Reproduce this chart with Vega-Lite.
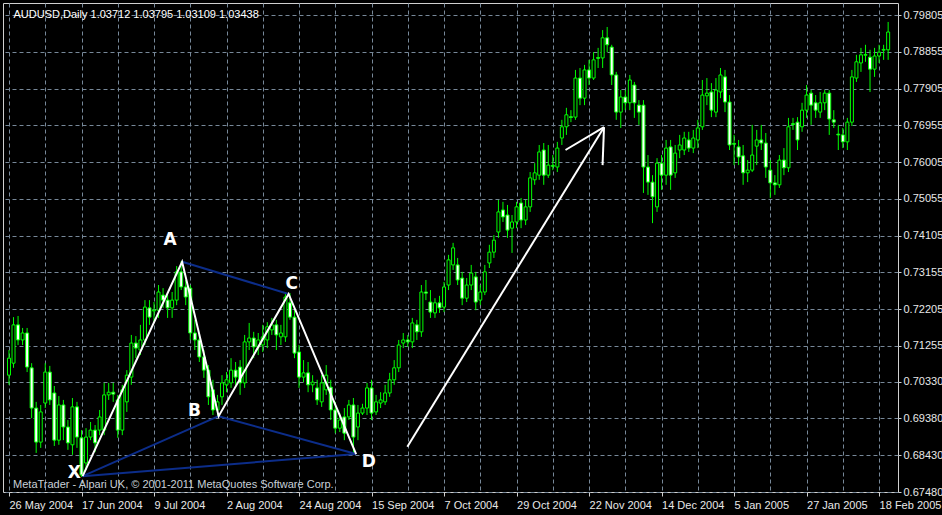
{
"$schema": "https://vega.github.io/schema/vega-lite/v6.json",
"width": 895, "height": 489,
"autosize": {"type": "none"},
"padding": {"left": 3, "top": 3, "right": 44, "bottom": 23},
"background": "#000000",
"config": {"view": {"stroke": "#d0d0d0", "strokeWidth": 1}, "font": "Liberation Sans"},
"datasets": {
"candles": [
{"i":0,"o":0.7050,"h":0.7115,"l":0.7025,"c":0.7094},
{"i":1,"o":0.7081,"h":0.7200,"l":0.7069,"c":0.7180},
{"i":2,"o":0.7180,"h":0.7203,"l":0.7128,"c":0.7141},
{"i":3,"o":0.7141,"h":0.7172,"l":0.7128,"c":0.7159},
{"i":4,"o":0.7159,"h":0.7172,"l":0.7058,"c":0.7071},
{"i":5,"o":0.7069,"h":0.7081,"l":0.6939,"c":0.6965},
{"i":6,"o":0.6965,"h":0.6981,"l":0.6849,"c":0.6877},
{"i":7,"o":0.6877,"h":0.6973,"l":0.6862,"c":0.6955},
{"i":8,"o":0.6978,"h":0.7081,"l":0.6965,"c":0.7058},
{"i":9,"o":0.7058,"h":0.7074,"l":0.6973,"c":0.6986},
{"i":10,"o":0.7004,"h":0.7022,"l":0.6867,"c":0.6882},
{"i":11,"o":0.6882,"h":0.6996,"l":0.6870,"c":0.6973},
{"i":12,"o":0.6973,"h":0.6986,"l":0.6882,"c":0.6916},
{"i":13,"o":0.6916,"h":0.6934,"l":0.6857,"c":0.6875},
{"i":14,"o":0.6870,"h":0.6991,"l":0.6844,"c":0.6968},
{"i":15,"o":0.6968,"h":0.6981,"l":0.6862,"c":0.6890},
{"i":16,"o":0.6888,"h":0.6908,"l":0.6787,"c":0.6792},
{"i":17,"o":0.6823,"h":0.6913,"l":0.6805,"c":0.6890},
{"i":18,"o":0.6890,"h":0.6929,"l":0.6882,"c":0.6908},
{"i":19,"o":0.6908,"h":0.6921,"l":0.6851,"c":0.6875},
{"i":20,"o":0.6908,"h":0.6960,"l":0.6895,"c":0.6942},
{"i":21,"o":0.6908,"h":0.7030,"l":0.6895,"c":0.6999},
{"i":22,"o":0.6999,"h":0.7030,"l":0.6986,"c":0.7006},
{"i":23,"o":0.7006,"h":0.7030,"l":0.6981,"c":0.7001},
{"i":24,"o":0.6986,"h":0.6999,"l":0.6888,"c":0.6908},
{"i":25,"o":0.6908,"h":0.7025,"l":0.6895,"c":0.7012},
{"i":26,"o":0.6981,"h":0.7063,"l":0.6955,"c":0.7050},
{"i":27,"o":0.7045,"h":0.7154,"l":0.7025,"c":0.7133},
{"i":28,"o":0.7133,"h":0.7151,"l":0.7094,"c":0.7120},
{"i":29,"o":0.7115,"h":0.7180,"l":0.7102,"c":0.7141},
{"i":30,"o":0.7141,"h":0.7244,"l":0.7128,"c":0.7226},
{"i":31,"o":0.7224,"h":0.7244,"l":0.7180,"c":0.7200},
{"i":32,"o":0.7216,"h":0.7239,"l":0.7187,"c":0.7218},
{"i":33,"o":0.7218,"h":0.7283,"l":0.7198,"c":0.7265},
{"i":34,"o":0.7257,"h":0.7275,"l":0.7224,"c":0.7244},
{"i":35,"o":0.7244,"h":0.7257,"l":0.7198,"c":0.7224},
{"i":36,"o":0.7224,"h":0.7265,"l":0.7198,"c":0.7244},
{"i":37,"o":0.7244,"h":0.7332,"l":0.7231,"c":0.7317},
{"i":38,"o":0.7317,"h":0.7345,"l":0.7270,"c":0.7278},
{"i":39,"o":0.7278,"h":0.7296,"l":0.7231,"c":0.7252},
{"i":40,"o":0.7275,"h":0.7283,"l":0.7141,"c":0.7159},
{"i":41,"o":0.7159,"h":0.7193,"l":0.7115,"c":0.7141},
{"i":42,"o":0.7141,"h":0.7154,"l":0.7084,"c":0.7097},
{"i":43,"o":0.7097,"h":0.7115,"l":0.7043,"c":0.7063},
{"i":44,"o":0.7063,"h":0.7076,"l":0.6973,"c":0.6994},
{"i":45,"o":0.7012,"h":0.7038,"l":0.6947,"c":0.6960},
{"i":46,"o":0.6960,"h":0.6999,"l":0.6942,"c":0.6981},
{"i":47,"o":0.6994,"h":0.7050,"l":0.6973,"c":0.7030},
{"i":48,"o":0.7025,"h":0.7058,"l":0.7006,"c":0.7038},
{"i":49,"o":0.7030,"h":0.7094,"l":0.7017,"c":0.7063},
{"i":50,"o":0.7063,"h":0.7084,"l":0.7025,"c":0.7045},
{"i":51,"o":0.7071,"h":0.7089,"l":0.6999,"c":0.7030},
{"i":52,"o":0.7030,"h":0.7154,"l":0.7017,"c":0.7136},
{"i":53,"o":0.7136,"h":0.7185,"l":0.7115,"c":0.7146},
{"i":54,"o":0.7146,"h":0.7162,"l":0.7094,"c":0.7123},
{"i":55,"o":0.7123,"h":0.7159,"l":0.7102,"c":0.7141},
{"i":56,"o":0.7128,"h":0.7180,"l":0.7110,"c":0.7149},
{"i":57,"o":0.7141,"h":0.7187,"l":0.7120,"c":0.7175},
{"i":58,"o":0.7167,"h":0.7198,"l":0.7154,"c":0.7180},
{"i":59,"o":0.7180,"h":0.7193,"l":0.7115,"c":0.7154},
{"i":60,"o":0.7149,"h":0.7180,"l":0.7128,"c":0.7159},
{"i":61,"o":0.7149,"h":0.7265,"l":0.7136,"c":0.7252},
{"i":62,"o":0.7237,"h":0.7262,"l":0.7193,"c":0.7200},
{"i":63,"o":0.7200,"h":0.7218,"l":0.7094,"c":0.7107},
{"i":64,"o":0.7110,"h":0.7128,"l":0.7017,"c":0.7045},
{"i":65,"o":0.7045,"h":0.7089,"l":0.7032,"c":0.7056},
{"i":66,"o":0.7056,"h":0.7084,"l":0.7006,"c":0.7025},
{"i":67,"o":0.7025,"h":0.7050,"l":0.7006,"c":0.7032},
{"i":68,"o":0.7017,"h":0.7038,"l":0.6973,"c":0.6986},
{"i":69,"o":0.6981,"h":0.7050,"l":0.6968,"c":0.7030},
{"i":70,"o":0.7012,"h":0.7076,"l":0.6999,"c":0.7050},
{"i":71,"o":0.7019,"h":0.7038,"l":0.6934,"c":0.6960},
{"i":72,"o":0.6960,"h":0.6981,"l":0.6900,"c":0.6913},
{"i":73,"o":0.6913,"h":0.6952,"l":0.6903,"c":0.6934},
{"i":74,"o":0.6942,"h":0.6965,"l":0.6882,"c":0.6900},
{"i":75,"o":0.6942,"h":0.6986,"l":0.6934,"c":0.6973},
{"i":76,"o":0.6973,"h":0.6991,"l":0.6844,"c":0.6890},
{"i":77,"o":0.6916,"h":0.6973,"l":0.6882,"c":0.6952},
{"i":78,"o":0.6952,"h":0.6976,"l":0.6947,"c":0.6965},
{"i":79,"o":0.6965,"h":0.7030,"l":0.6947,"c":0.7017},
{"i":80,"o":0.7017,"h":0.7038,"l":0.6934,"c":0.6952},
{"i":81,"o":0.6955,"h":0.6999,"l":0.6947,"c":0.6981},
{"i":82,"o":0.6978,"h":0.7006,"l":0.6965,"c":0.6986},
{"i":83,"o":0.6981,"h":0.7025,"l":0.6973,"c":0.7004},
{"i":84,"o":0.7004,"h":0.7056,"l":0.6994,"c":0.7038},
{"i":85,"o":0.7038,"h":0.7089,"l":0.7025,"c":0.7069},
{"i":86,"o":0.7069,"h":0.7141,"l":0.7058,"c":0.7128},
{"i":87,"o":0.7133,"h":0.7159,"l":0.7120,"c":0.7141},
{"i":88,"o":0.7141,"h":0.7154,"l":0.7123,"c":0.7136},
{"i":89,"o":0.7136,"h":0.7198,"l":0.7120,"c":0.7185},
{"i":90,"o":0.7180,"h":0.7193,"l":0.7141,"c":0.7162},
{"i":91,"o":0.7162,"h":0.7283,"l":0.7149,"c":0.7265},
{"i":92,"o":0.7265,"h":0.7296,"l":0.7244,"c":0.7262},
{"i":93,"o":0.7239,"h":0.7270,"l":0.7198,"c":0.7213},
{"i":94,"o":0.7211,"h":0.7249,"l":0.7198,"c":0.7237},
{"i":95,"o":0.7237,"h":0.7255,"l":0.7211,"c":0.7224},
{"i":96,"o":0.7226,"h":0.7291,"l":0.7213,"c":0.7278},
{"i":97,"o":0.7283,"h":0.7361,"l":0.7270,"c":0.7348},
{"i":98,"o":0.7335,"h":0.7392,"l":0.7322,"c":0.7379},
{"i":99,"o":0.7335,"h":0.7353,"l":0.7283,"c":0.7296},
{"i":100,"o":0.7301,"h":0.7317,"l":0.7231,"c":0.7249},
{"i":101,"o":0.7249,"h":0.7301,"l":0.7239,"c":0.7283},
{"i":102,"o":0.7283,"h":0.7335,"l":0.7270,"c":0.7314},
{"i":103,"o":0.7304,"h":0.7317,"l":0.7218,"c":0.7239},
{"i":104,"o":0.7244,"h":0.7283,"l":0.7231,"c":0.7265},
{"i":105,"o":0.7265,"h":0.7335,"l":0.7257,"c":0.7317},
{"i":106,"o":0.7340,"h":0.7387,"l":0.7327,"c":0.7368},
{"i":107,"o":0.7368,"h":0.7412,"l":0.7353,"c":0.7399},
{"i":108,"o":0.7420,"h":0.7503,"l":0.7405,"c":0.7472},
{"i":109,"o":0.7477,"h":0.7498,"l":0.7446,"c":0.7459},
{"i":110,"o":0.7464,"h":0.7490,"l":0.7405,"c":0.7425},
{"i":111,"o":0.7430,"h":0.7464,"l":0.7366,"c":0.7446},
{"i":112,"o":0.7446,"h":0.7498,"l":0.7430,"c":0.7485},
{"i":113,"o":0.7495,"h":0.7508,"l":0.7430,"c":0.7451},
{"i":114,"o":0.7451,"h":0.7503,"l":0.7438,"c":0.7485},
{"i":115,"o":0.7485,"h":0.7575,"l":0.7472,"c":0.7560},
{"i":116,"o":0.7555,"h":0.7598,"l":0.7542,"c":0.7573},
{"i":117,"o":0.7567,"h":0.7645,"l":0.7555,"c":0.7627},
{"i":118,"o":0.7632,"h":0.7650,"l":0.7542,"c":0.7567},
{"i":119,"o":0.7567,"h":0.7645,"l":0.7560,"c":0.7593},
{"i":120,"o":0.7592,"h":0.7619,"l":0.7580,"c":0.7590},
{"i":121,"o":0.7588,"h":0.7653,"l":0.7575,"c":0.7637},
{"i":122,"o":0.7663,"h":0.7710,"l":0.7645,"c":0.7692},
{"i":123,"o":0.7692,"h":0.7741,"l":0.7671,"c":0.7723},
{"i":124,"o":0.7718,"h":0.7735,"l":0.7704,"c":0.7716},
{"i":125,"o":0.7717,"h":0.7839,"l":0.7710,"c":0.7818},
{"i":126,"o":0.7818,"h":0.7844,"l":0.7748,"c":0.7766},
{"i":127,"o":0.7766,"h":0.7852,"l":0.7748,"c":0.7839},
{"i":128,"o":0.7839,"h":0.7865,"l":0.7800,"c":0.7818},
{"i":129,"o":0.7818,"h":0.7885,"l":0.7813,"c":0.7865},
{"i":130,"o":0.7871,"h":0.7896,"l":0.7844,"c":0.7869},
{"i":131,"o":0.7870,"h":0.7942,"l":0.7844,"c":0.7922},
{"i":132,"o":0.7922,"h":0.7950,"l":0.7885,"c":0.7904},
{"i":133,"o":0.7898,"h":0.7904,"l":0.7800,"c":0.7826},
{"i":134,"o":0.7826,"h":0.7834,"l":0.7710,"c":0.7730},
{"i":135,"o":0.7730,"h":0.7787,"l":0.7689,"c":0.7769},
{"i":136,"o":0.7769,"h":0.7787,"l":0.7735,"c":0.7754},
{"i":137,"o":0.7754,"h":0.7826,"l":0.7735,"c":0.7813},
{"i":138,"o":0.7800,"h":0.7808,"l":0.7715,"c":0.7754},
{"i":139,"o":0.7748,"h":0.7761,"l":0.7697,"c":0.7730},
{"i":140,"o":0.7748,"h":0.7761,"l":0.7521,"c":0.7588},
{"i":141,"o":0.7588,"h":0.7619,"l":0.7516,"c":0.7549},
{"i":142,"o":0.7549,"h":0.7567,"l":0.7443,"c":0.7511},
{"i":143,"o":0.7485,"h":0.7611,"l":0.7472,"c":0.7598},
{"i":144,"o":0.7598,"h":0.7619,"l":0.7529,"c":0.7567},
{"i":145,"o":0.7567,"h":0.7658,"l":0.7542,"c":0.7637},
{"i":146,"o":0.7640,"h":0.7658,"l":0.7529,"c":0.7567},
{"i":147,"o":0.7573,"h":0.7645,"l":0.7560,"c":0.7624},
{"i":148,"o":0.7632,"h":0.7671,"l":0.7611,"c":0.7645},
{"i":149,"o":0.7632,"h":0.7679,"l":0.7619,"c":0.7663},
{"i":150,"o":0.7658,"h":0.7679,"l":0.7627,"c":0.7637},
{"i":151,"o":0.7637,"h":0.7684,"l":0.7624,"c":0.7663},
{"i":152,"o":0.7658,"h":0.7710,"l":0.7637,"c":0.7689},
{"i":153,"o":0.7692,"h":0.7813,"l":0.7684,"c":0.7774},
{"i":154,"o":0.7772,"h":0.7818,"l":0.7748,"c":0.7779},
{"i":155,"o":0.7782,"h":0.7805,"l":0.7717,"c":0.7735},
{"i":156,"o":0.7730,"h":0.7818,"l":0.7717,"c":0.7787},
{"i":157,"o":0.7782,"h":0.7844,"l":0.7766,"c":0.7826},
{"i":158,"o":0.7821,"h":0.7839,"l":0.7730,"c":0.7756},
{"i":159,"o":0.7756,"h":0.7774,"l":0.7632,"c":0.7645},
{"i":160,"o":0.7649,"h":0.7671,"l":0.7593,"c":0.7647},
{"i":161,"o":0.7640,"h":0.7658,"l":0.7593,"c":0.7614},
{"i":162,"o":0.7617,"h":0.7645,"l":0.7542,"c":0.7573},
{"i":163,"o":0.7573,"h":0.7606,"l":0.7549,"c":0.7580},
{"i":164,"o":0.7580,"h":0.7697,"l":0.7575,"c":0.7619},
{"i":165,"o":0.7642,"h":0.7684,"l":0.7593,"c":0.7658},
{"i":166,"o":0.7658,"h":0.7697,"l":0.7632,"c":0.7650},
{"i":167,"o":0.7650,"h":0.7676,"l":0.7560,"c":0.7588},
{"i":168,"o":0.7580,"h":0.7606,"l":0.7508,"c":0.7547},
{"i":169,"o":0.7547,"h":0.7567,"l":0.7516,"c":0.7542},
{"i":170,"o":0.7542,"h":0.7619,"l":0.7534,"c":0.7606},
{"i":171,"o":0.7606,"h":0.7637,"l":0.7567,"c":0.7586},
{"i":172,"o":0.7586,"h":0.7715,"l":0.7575,"c":0.7692},
{"i":173,"o":0.7700,"h":0.7715,"l":0.7684,"c":0.7698},
{"i":174,"o":0.7704,"h":0.7717,"l":0.7632,"c":0.7658},
{"i":175,"o":0.7692,"h":0.7754,"l":0.7679,"c":0.7735},
{"i":176,"o":0.7735,"h":0.7800,"l":0.7715,"c":0.7774},
{"i":177,"o":0.7779,"h":0.7787,"l":0.7697,"c":0.7748},
{"i":178,"o":0.7754,"h":0.7774,"l":0.7715,"c":0.7735},
{"i":179,"o":0.7730,"h":0.7782,"l":0.7715,"c":0.7754},
{"i":180,"o":0.7754,"h":0.7787,"l":0.7735,"c":0.7779},
{"i":181,"o":0.7779,"h":0.7787,"l":0.7671,"c":0.7712},
{"i":182,"o":0.7710,"h":0.7735,"l":0.7689,"c":0.7704},
{"i":183,"o":0.7673,"h":0.7697,"l":0.7632,"c":0.7671},
{"i":184,"o":0.7671,"h":0.7689,"l":0.7637,"c":0.7653},
{"i":185,"o":0.7653,"h":0.7715,"l":0.7632,"c":0.7704},
{"i":186,"o":0.7704,"h":0.7839,"l":0.7694,"c":0.7821},
{"i":187,"o":0.7818,"h":0.7878,"l":0.7808,"c":0.7860},
{"i":188,"o":0.7857,"h":0.7896,"l":0.7834,"c":0.7878},
{"i":189,"o":0.7877,"h":0.7904,"l":0.7860,"c":0.7879},
{"i":190,"o":0.7872,"h":0.7891,"l":0.7782,"c":0.7841},
{"i":191,"o":0.7841,"h":0.7896,"l":0.7821,"c":0.7875},
{"i":192,"o":0.7875,"h":0.7904,"l":0.7857,"c":0.7885},
{"i":193,"o":0.7890,"h":0.7904,"l":0.7865,"c":0.7892},
{"i":194,"o":0.7891,"h":0.7963,"l":0.7865,"c":0.7937}
],
"lines": [
{"seg":"XABCD","grp":"pattern","k":0,"i":16.25,"p":0.6789},
{"seg":"XABCD","grp":"pattern","k":1,"i":38.2,"p":0.7343},
{"seg":"XABCD","grp":"pattern","k":2,"i":46.26,"p":0.6944},
{"seg":"XABCD","grp":"pattern","k":3,"i":61.7,"p":0.7260},
{"seg":"XABCD","grp":"pattern","k":4,"i":76.6,"p":0.6846},
{"seg":"AC","grp":"triangle","k":0,"i":38.2,"p":0.7343},
{"seg":"AC","grp":"triangle","k":1,"i":61.7,"p":0.7260},
{"seg":"XB","grp":"triangle","k":0,"i":16.25,"p":0.6789},
{"seg":"XB","grp":"triangle","k":1,"i":46.26,"p":0.6944},
{"seg":"BD","grp":"triangle","k":0,"i":46.26,"p":0.6944},
{"seg":"BD","grp":"triangle","k":1,"i":76.6,"p":0.6846},
{"seg":"XD","grp":"triangle","k":0,"i":16.25,"p":0.6789},
{"seg":"XD","grp":"triangle","k":1,"i":76.6,"p":0.6846},
{"seg":"shaft","grp":"arrow","k":0,"i":87.9,"p":0.6865},
{"seg":"shaft","grp":"arrow","k":1,"i":131.3,"p":0.7691},
{"seg":"barb1","grp":"arrow","k":0,"i":122.8,"p":0.7632},
{"seg":"barb1","grp":"arrow","k":1,"i":131.3,"p":0.7691},
{"seg":"barb2","grp":"arrow","k":0,"i":131.3,"p":0.7691},
{"seg":"barb2","grp":"arrow","k":1,"i":130.98,"p":0.7593}
],
"points": [
{"t":"X","i":14.4,"p":0.6797},
{"t":"A","i":35.57,"p":0.7399},
{"t":"B","i":40.95,"p":0.6957},
{"t":"C","i":62.4,"p":0.7286},
{"t":"D","i":79.4,"p":0.6826}
],
"captions": [
{"t":"AUDUSD,Daily  1.03712 1.03795 1.03109 1.03438","kind":"header","i":1.0,"p":0.7982},
{"t":"MetaTrader - Alpari UK, © 2001-2011 MetaQuotes Software Corp.","kind":"footer","i":0.9,"p":0.6766}
]
},
"layer": [
{
"data": {"name": "candles"},
"mark": {"type": "rule", "color": "#00ff00", "strokeWidth": 1},
"encoding": {
"x": {"field": "i", "type": "quantitative",
 "scale": {"domain": [-0.22, 195.07], "nice": false, "zero": false},
 "axis": {"title": null, "orient": "bottom", "tickCount": 60,
  "values": [0,8,16,24,32,40,48,56,64,72,80,88,96,104,112,120,128,136,144,152,160,168,176,184,192],
  "grid": true, "gridColor": "#778899", "gridDash": [4,3], "gridWidth": 1,
  "domain": false, "ticks": true, "tickColor": "#d0d0d0", "tickSize": 4,
  "tickOpacity": {"condition": {"test": "datum.value % 16 === 0", "value": 1}, "value": 0},
  "labelExpr": "datum.value % 16 === 0 ? ['26 May 2004','17 Jun 2004','9 Jul 2004','2 Aug 2004','24 Aug 2004','15 Sep 2004','7 Oct 2004','29 Oct 2004','22 Nov 2004','14 Dec 2004','5 Jan 2005','27 Jan 2005','18 Feb 2005'][datum.value/16] : ''",
  "labelAlign": "left", "labelBaseline": "top", "labelPadding": 3,
  "labelColor": "#e8e8e8", "labelFont": "Liberation Sans", "labelFontSize": 11,
  "labelOverlap": false, "labelFlush": false, "labelBound": false}},
"y": {"field": "l", "type": "quantitative",
 "scale": {"domain": [0.6748, 0.8012], "nice": false, "zero": false},
 "axis": {"title": null, "orient": "right", "tickCount": 60,
  "values": [0.79805,0.78855,0.77905,0.76955,0.76005,0.75055,0.74105,0.73155,0.72205,0.71255,0.7033,0.6938,0.6843,0.6748],
  "format": ".5f",
  "grid": true, "gridColor": "#778899", "gridDash": [4,3], "gridWidth": 1,
  "domain": false, "ticks": true, "tickColor": "#d0d0d0", "tickSize": 3,
  "labelPadding": 2, "labelColor": "#e8e8e8", "labelFont": "Liberation Sans", "labelFontSize": 11,
  "labelOverlap": false, "labelFlush": false, "labelBound": false}},
"y2": {"field": "h"}
}
},
{
"data": {"name": "candles"},
"mark": {"type": "bar", "size": 3, "stroke": "#00ff00", "strokeWidth": 1},
"encoding": {
"x": {"field": "i", "type": "quantitative", "scale": {"domain": [-0.22, 195.07], "nice": false, "zero": false}},
"y": {"field": "o", "type": "quantitative", "scale": {"domain": [0.6748, 0.8012], "nice": false, "zero": false}},
"y2": {"field": "c"},
"fill": {"condition": {"test": "datum.c < datum.o", "value": "#ffffff"}, "value": "#000000"}
}
},
{
"data": {"name": "lines"},
"transform": [{"filter": "datum.grp === 'triangle'"}],
"mark": {"type": "line", "color": "#0c2d8a", "strokeWidth": 2},
"encoding": {
"x": {"field": "i", "type": "quantitative", "scale": {"domain": [-0.22, 195.07], "nice": false, "zero": false}},
"y": {"field": "p", "type": "quantitative", "scale": {"domain": [0.6748, 0.8012], "nice": false, "zero": false}},
"detail": {"field": "seg"},
"order": {"field": "k"}
}
},
{
"data": {"name": "lines"},
"transform": [{"filter": "datum.grp !== 'triangle'"}],
"mark": {"type": "line", "color": "#ffffff", "strokeWidth": 2},
"encoding": {
"x": {"field": "i", "type": "quantitative", "scale": {"domain": [-0.22, 195.07], "nice": false, "zero": false}},
"y": {"field": "p", "type": "quantitative", "scale": {"domain": [0.6748, 0.8012], "nice": false, "zero": false}},
"detail": {"field": "seg"},
"order": {"field": "k"}
}
},
{
"data": {"name": "points"},
"mark": {"type": "text", "color": "#ffffff", "font": "DejaVu Sans", "fontWeight": "bold", "fontSize": 17, "align": "center", "baseline": "middle"},
"encoding": {
"x": {"field": "i", "type": "quantitative", "scale": {"domain": [-0.22, 195.07], "nice": false, "zero": false}},
"y": {"field": "p", "type": "quantitative", "scale": {"domain": [0.6748, 0.8012], "nice": false, "zero": false}},
"text": {"field": "t"}
}
},
{
"data": {"name": "captions"},
"mark": {"type": "text", "font": "Liberation Sans", "fontSize": 11, "align": "left", "baseline": "middle"},
"encoding": {
"x": {"field": "i", "type": "quantitative", "scale": {"domain": [-0.22, 195.07], "nice": false, "zero": false}},
"y": {"field": "p", "type": "quantitative", "scale": {"domain": [0.6748, 0.8012], "nice": false, "zero": false}},
"text": {"field": "t"},
"color": {"condition": {"test": "datum.kind === 'footer'", "value": "#c8d0d8"}, "value": "#ffffff"}
}
}
]
}
